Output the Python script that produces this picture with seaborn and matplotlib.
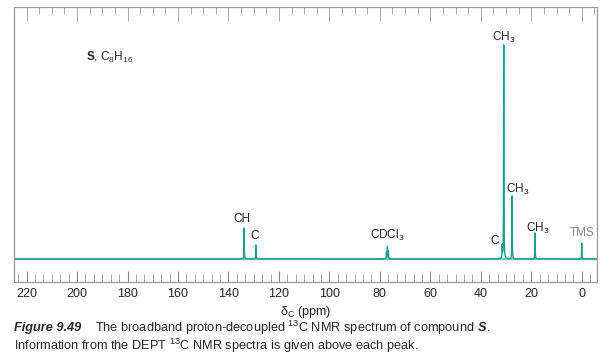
import numpy as np
import pandas as pd
import matplotlib
matplotlib.use("Agg")
import matplotlib.pyplot as plt
from matplotlib.ticker import MultipleLocator
import seaborn as sns

# ---- data ----
peak_ppm = [133.8, 129.1, 77.4, 77.0, 76.6, 31.5, 30.9, 27.6, 18.5, 0.0]
peak_height = [31, 14, 7, 12, 8, 12, 214, 63, 26, 16]
labels_text = ["CH", "C", r"CDCl$_3$", "C", r"CH$_3$", r"CH$_3$", r"CH$_3$", "TMS"]
labels_ppm = [134.5, 129.5, 77.0, 34.5, 31.0, 25.4, 17.5, 0.0]
labels_h = [34, 17, 16, 12, 214, 62, 23, 20]
tick_values = list(range(0, 221, 20))

sns.set_theme(style="white")
plt.rcParams["font.family"] = ["Liberation Sans", "DejaVu Sans"]
plt.rcParams["mathtext.fontset"] = "custom"
plt.rcParams["mathtext.rm"] = "Liberation Sans"
plt.rcParams["mathtext.it"] = "Liberation Sans:italic"
plt.rcParams["mathtext.bf"] = "Liberation Sans:bold"
plt.rcParams["mathtext.default"] = "regular"

# spectrum trace built from peak list (Lorentzian lines)
grid = np.arange(-6, 225, 0.01)
inten = np.zeros_like(grid)
w = 0.07
for p, h in zip(peak_ppm, peak_height):
    inten += h * w**2 / ((grid - p) ** 2 + w**2)
df = pd.DataFrame({"ppm": grid, "intensity": inten})

teal = "#1a9e8e"
fig = plt.figure(figsize=(6.07, 3.61), dpi=100)
ax = fig.add_axes([14 / 607, 1 - 282 / 361, (597 - 14) / 607, (282 - 7) / 361])
sns.lineplot(data=df, x="ppm", y="intensity", ax=ax, color=teal, lw=1.0, estimator=None)
ax.axhline(0, color=teal, lw=1.6, alpha=0.6, zorder=1)

ax.set_xlim(225, -6.05)
ax.set_ylim(-23, 252)
ax.set_xticks(tick_values)
ax.xaxis.set_minor_locator(MultipleLocator(20 / 6))
ax.set_yticks([])
ax.tick_params(axis="x", which="major", direction="in", length=8, width=0.8,
               color="#888888", labelsize=9, pad=4, bottom=True)
ax.tick_params(axis="x", which="minor", direction="in", length=6, width=0.6,
               color="#999999", bottom=True)
for s in ax.spines.values():
    s.set_color("#999999")
    s.set_linewidth(0.9)
ax.set_xlabel(r"$\delta_C$ (ppm)", fontsize=9, labelpad=3)
ax.set_ylabel("")

sec = ax.secondary_xaxis("top")
sec.set_xticks(tick_values)
sec.xaxis.set_minor_locator(MultipleLocator(5))
sec.tick_params(axis="x", which="major", direction="in", length=10, width=0.6,
                color="#999999", labeltop=False)
sec.tick_params(axis="x", which="minor", direction="in", length=5, width=0.6,
                color="#999999")
sec.spines["top"].set_visible(False)

for t, x, y in zip(labels_text, labels_ppm, labels_h):
    ax.text(x, y, t, ha="center", va="bottom", fontsize=8.5,
            color="#888888" if t == "TMS" else "#222222")

ax.text(196.5, 202, r"$\mathbf{S}$, C$_8$H$_{16}$", ha="left", va="center", fontsize=8.5)

y1 = 1 - 328 / 361
y2 = 1 - 346 / 361
cfs = 9.2
fig.text(14 / 607, y1, "Figure 9.49", fontsize=cfs, ha="left", va="center",
         fontweight="bold", style="italic")
t1 = fig.text(95 / 607, y1,
              r"The broadband proton-decoupled $^{13}$C NMR spectrum of compound",
              fontsize=cfs, ha="left", va="center")
fig.canvas.draw()
rend = fig.canvas.get_renderer()
bb = t1.get_window_extent(renderer=rend)
ts = fig.text((bb.x1 + 3) / fig.bbox.width, y1, "S", fontsize=cfs, ha="left", va="center",
              fontweight="bold", style="italic")
fig.canvas.draw()
bs = ts.get_window_extent(renderer=rend)
fig.text((bs.x1 + 0.5) / fig.bbox.width, y1, ".", fontsize=cfs, ha="left", va="center")
fig.text(14 / 607, y2,
         r"Information from the DEPT $^{13}$C NMR spectra is given above each peak.",
         fontsize=cfs, ha="left", va="center")

fig.savefig("out.png", dpi=100)
